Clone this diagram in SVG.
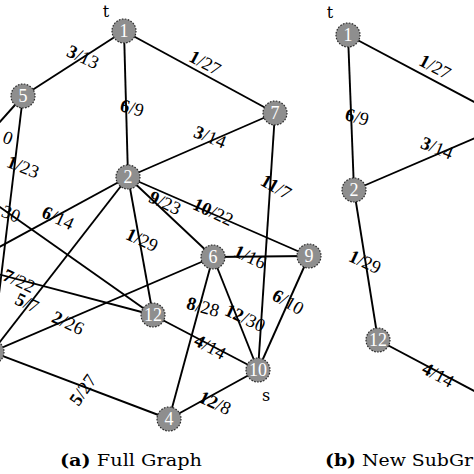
<svg xmlns="http://www.w3.org/2000/svg" width="474" height="474" viewBox="0 0 474 474">
<style>
.e{stroke:#000;stroke-width:1.9;fill:none}
.n{fill:#8e8e8e;stroke:#2a2a2a;stroke-width:1.2;stroke-dasharray:1.6 1.4}
.nt{fill:#fff;font-family:"Liberation Serif",serif;font-size:18px;text-anchor:middle;dominant-baseline:central}
.l{font-family:"Liberation Serif",serif;font-size:18.5px;fill:#000;text-anchor:middle;dominant-baseline:central}
.b{font-weight:bold}
.c{font-family:"DejaVu Serif",serif;font-size:16px;fill:#000}
</style>
<rect width="474" height="474" fill="#fff"/>
<g id="connectors">
<line class="e" x1="124" y1="31" x2="23" y2="96"/>
<line class="e" x1="124" y1="31" x2="275" y2="113"/>
<line class="e" x1="124" y1="31" x2="128" y2="177"/>
<line class="e" x1="23" y1="96" x2="-10" y2="133"/>
<line class="e" x1="23" y1="96" x2="-8" y2="352"/>
<line class="e" x1="128" y1="177" x2="275" y2="113"/>
<line class="e" x1="128" y1="177" x2="213" y2="257"/>
<line class="e" x1="128" y1="177" x2="309" y2="256"/>
<line class="e" x1="128" y1="177" x2="153" y2="315"/>
<line class="e" x1="128" y1="177" x2="-10" y2="252"/>
<line class="e" x1="128" y1="177" x2="-8" y2="352"/>
<line class="e" x1="-10" y1="200" x2="153" y2="315"/>
<line class="e" x1="-10" y1="272" x2="153" y2="315"/>
<line class="e" x1="-8" y1="352" x2="213" y2="257"/>
<line class="e" x1="-8" y1="352" x2="169" y2="419"/>
<line class="e" x1="153" y1="315" x2="258" y2="370"/>
<line class="e" x1="213" y1="257" x2="309" y2="256"/>
<line class="e" x1="213" y1="257" x2="169" y2="419"/>
<line class="e" x1="213" y1="257" x2="258" y2="370"/>
<line class="e" x1="275" y1="113" x2="258" y2="370"/>
<line class="e" x1="309" y1="256" x2="258" y2="370"/>
<line class="e" x1="169" y1="419" x2="258" y2="370"/>
<line class="e" x1="348" y1="35" x2="354" y2="190"/>
<line class="e" x1="348" y1="35" x2="480" y2="105"/>
<line class="e" x1="354" y1="190" x2="480" y2="136"/>
<line class="e" x1="354" y1="190" x2="378" y2="340"/>
<line class="e" x1="378" y1="340" x2="480" y2="394"/>
</g>
<g id="labels">
<text class="l" transform="translate(83,57) rotate(25)"><tspan class="b">3</tspan>/13</text>
<text class="l" transform="translate(205,63) rotate(28)"><tspan class="b">1</tspan>/27</text>
<text class="l" transform="translate(132,108) rotate(15)"><tspan class="b">6</tspan>/9</text>
<text class="l" transform="translate(8,138) rotate(20)">0</text>
<text class="l" transform="translate(23,167) rotate(22)"><tspan class="b">1</tspan>/23</text>
<text class="l" transform="translate(11,214) rotate(22)">30</text>
<text class="l" transform="translate(58,218) rotate(25)"><tspan class="b">6</tspan>/14</text>
<text class="l" transform="translate(19,281) rotate(25)"><tspan class="b">7</tspan>/22</text>
<text class="l" transform="translate(27,303) rotate(25)"><tspan class="b">5</tspan>/7</text>
<text class="l" transform="translate(165,203) rotate(25)"><tspan class="b">9</tspan>/23</text>
<text class="l" transform="translate(213,212) rotate(25)"><tspan class="b">10</tspan>/22</text>
<text class="l" transform="translate(142,240) rotate(25)"><tspan class="b">1</tspan>/29</text>
<text class="l" transform="translate(210,137) rotate(22)"><tspan class="b">3</tspan>/14</text>
<text class="l" transform="translate(276,187) rotate(30)"><tspan class="b">11</tspan>/7</text>
<text class="l" transform="translate(250,257) rotate(25)"><tspan class="b">1</tspan>/16</text>
<text class="l" transform="translate(288,302) rotate(30)"><tspan class="b">6</tspan>/10</text>
<text class="l" transform="translate(203,307) rotate(15)"><tspan class="b">8</tspan>/28</text>
<text class="l" transform="translate(245,318) rotate(25)"><tspan class="b">12</tspan>/30</text>
<text class="l" transform="translate(68,323) rotate(25)"><tspan class="b">2</tspan>/26</text>
<text class="l" transform="translate(210,347) rotate(28)"><tspan class="b">4</tspan>/14</text>
<text class="l" transform="translate(83,390) rotate(-55)"><tspan class="b">5</tspan>/27</text>
<text class="l" transform="translate(215,403) rotate(25)"><tspan class="b">12</tspan>/8</text>
<text class="l" transform="translate(357,117) rotate(15)"><tspan class="b">6</tspan>/9</text>
<text class="l" transform="translate(435,67) rotate(28)"><tspan class="b">1</tspan>/27</text>
<text class="l" transform="translate(437,148) rotate(22)"><tspan class="b">3</tspan>/14</text>
<text class="l" transform="translate(365,262) rotate(25)"><tspan class="b">1</tspan>/29</text>
<text class="l" transform="translate(438,375) rotate(28)"><tspan class="b">4</tspan>/14</text>
</g>
<g id="n1"><circle class="n" cx="124" cy="31" r="12"/><text class="nt" x="124" y="31">1</text></g>
<g id="n5"><circle class="n" cx="23" cy="96" r="12"/><text class="nt" x="23" y="96">5</text></g>
<g id="n7"><circle class="n" cx="275" cy="113" r="12"/><text class="nt" x="275" y="113">7</text></g>
<g id="n2"><circle class="n" cx="128" cy="177" r="12"/><text class="nt" x="128" y="177">2</text></g>
<g id="n6"><circle class="n" cx="213" cy="257" r="12"/><text class="nt" x="213" y="257">6</text></g>
<g id="n9"><circle class="n" cx="309" cy="256" r="12"/><text class="nt" x="309" y="256">9</text></g>
<g id="n12"><circle class="n" cx="153" cy="315" r="12"/><text class="nt" x="153" y="315">12</text></g>
<g id="n10"><circle class="n" cx="258" cy="370" r="12"/><text class="nt" x="258" y="370">10</text></g>
<g id="n4"><circle class="n" cx="169" cy="419" r="12"/><text class="nt" x="169" y="419">4</text></g>
<g id="nL"><circle class="n" cx="-8" cy="352" r="12"/></g>
<g id="s1"><circle class="n" cx="348" cy="35" r="12"/><text class="nt" x="348" y="35">1</text></g>
<g id="s2"><circle class="n" cx="354" cy="190" r="12"/><text class="nt" x="354" y="190">2</text></g>
<g id="s12"><circle class="n" cx="378" cy="340" r="12"/><text class="nt" x="378" y="340">12</text></g>
<g id="annotations">
<text class="c" x="106" y="17" text-anchor="middle" font-size="18">t</text>
<text class="c" x="330" y="18" text-anchor="middle" font-size="18">t</text>
<text class="c" x="266" y="401" text-anchor="middle" font-size="18">s</text>
<text class="c" x="60" y="466" textLength="142" lengthAdjust="spacingAndGlyphs"><tspan font-weight="bold">(a)</tspan> Full Graph</text>
<text class="c" x="325" y="466" textLength="148" lengthAdjust="spacingAndGlyphs"><tspan font-weight="bold">(b)</tspan> New SubGr</text>
</g>
</svg>
